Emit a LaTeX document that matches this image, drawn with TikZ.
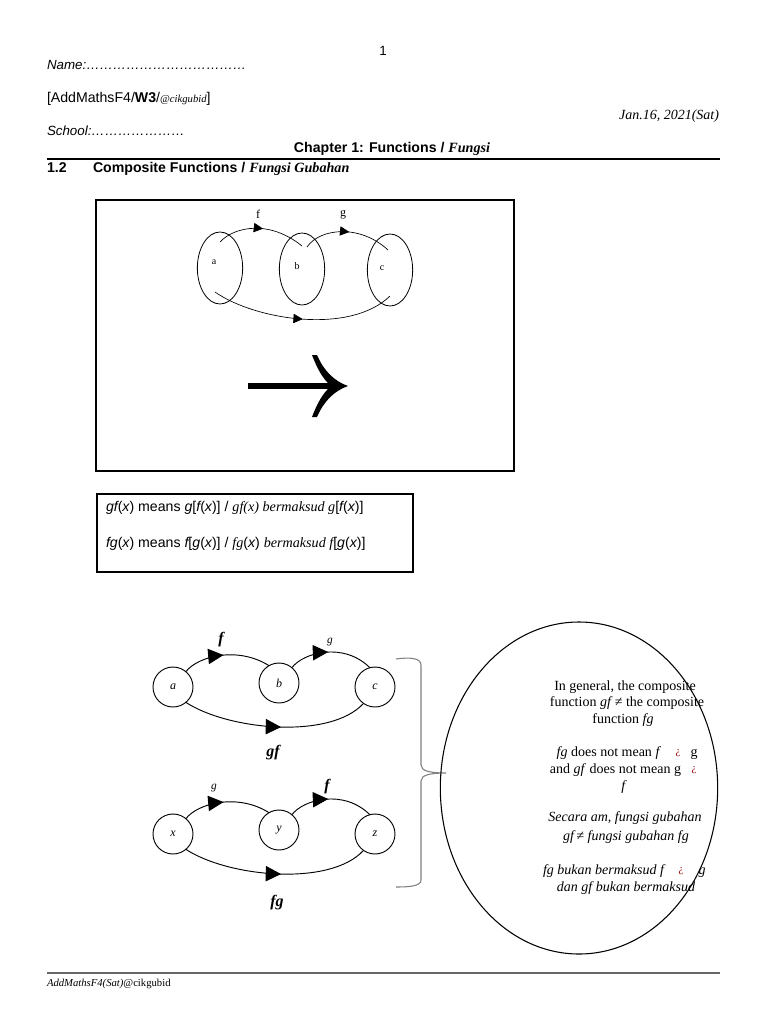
\documentclass[tikz,border=0pt]{standalone}
\usepackage{fontspec}
\setmainfont{Liberation Sans}
\newfontfamily\sr{Liberation Serif}
\usetikzlibrary{arrows.meta,decorations.markings,shapes.geometric,calc}
\begin{document}
\begin{tikzpicture}[x=0.75pt,y=-0.75pt,
  every node/.style={inner sep=0pt,outer sep=0pt},
  sans/.style={font=\fontsize{10}{12}\selectfont},
  head/.style={font=\fontsize{10.6}{12}\selectfont},
  serifs/.style={font=\sr\fontsize{10.5}{12}\selectfont},
  frame/.style={draw,line width=0.8pt},
  ovl/.style={draw,ellipse,line width=0.6pt,minimum width=34pt,minimum height=54pt},
  circ/.style={draw,circle,line width=0.7pt,minimum size=30pt,font=\sr\itshape\fontsize{9}{10}\selectfont},
  thinarc/.style={line width=0.5pt,postaction={decorate},decoration={markings,mark=at position #1 with {\arrow{Triangle[length=7pt,width=7pt]}}}},
  bigarc/.style={line width=0.7pt,postaction={decorate},decoration={markings,mark=at position #1 with {\arrow{Triangle[length=11.5pt,width=11.5pt]}}}},
  redq/.style={text=red!60!black,font=\sr\fontsize{8}{9}\selectfont}
]
\useasboundingbox[fill=white] (0,0) rectangle (768,1024);

% header
\node[sans,anchor=mid] (pg) at (383,52) {1};
\node[sans,anchor=mid west] (name) at (47,66) {\itshape Name:………………………………};
\node[head,anchor=mid west] (addm) at (47,99) {[AddMathsF4/\textbf{W3}/{\sr\itshape\fontsize{8}{9}\selectfont @cikgubid}]};
\node[serifs,anchor=mid east] (date) at (719,116) {\itshape Jan.16, 2021(Sat)};
\node[sans,anchor=mid west] (school) at (47,132) {\itshape School:…………………};
\node[head,anchor=mid] (chap) at (392,149) {\bfseries Chapter 1: Functions / {\sr\itshape Fungsi}};
\draw[line width=1pt] (47,159) -- (720,159);
\node[head,anchor=mid west] (sec) at (47,169) {\bfseries 1.2};
\node[head,anchor=mid west] (sect) at (93,169) {\bfseries Composite Functions / {\sr\itshape Fungsi Gubahan}};

% box 1
\draw[frame] (96,200) rectangle (514,471);
\node[ovl] (ea) at (220,268) {};
\node[ovl] (eb) at (302,269) {};
\node[ovl] (ec) at (390,270) {};
\node[font=\sr\fontsize{7.5}{8}\selectfont] (la) at (214,262) {a};
\node[font=\sr\fontsize{7.5}{8}\selectfont] (lb) at (297,266) {b};
\node[font=\sr\fontsize{7.5}{8}\selectfont] (lc) at (382,268) {c};
\coordinate (a1) at ($(ea.center)+(0,-26)$);
\coordinate (b1) at ($(eb.center)+(0,-23)$);
\coordinate (b2) at ($(eb.center)+(5,-22)$);
\coordinate (c1) at ($(ec.center)+(-2,-20)$);
\coordinate (a2) at ($(ea.center)+(-5,24)$);
\coordinate (c2) at ($(ec.center)+(0,26)$);
\draw[thinarc=0.52] (a1) .. controls (235,226) and (270,220) .. (b1);
\draw[thinarc=0.52] (b2) .. controls (320,228) and (360,224) .. (c1);
\draw[thinarc=0.5] (a2) .. controls (255,320) and (350,335) .. (c2);
\node[font=\sr\fontsize{9}{10}\selectfont] (lf) at (258,214) {f};
\node[font=\sr\fontsize{9}{10}\selectfont] (lg) at (343,215) {g};
% big arrow
\draw[line width=3.8pt] (248,386) -- (334,386);
\fill (312,355) -- (317,355) .. controls (324,371) and (334,381) .. (348,386)
  .. controls (334,391) and (324,401) .. (317,417) -- (312,417)
  .. controls (317,404) and (322,394) .. (331,386)
  .. controls (322,378) and (317,368) .. cycle;

% box 2
\draw[frame] (97,494) rectangle (413,572);
\node[head,anchor=mid west] (l1) at (106,508) {\itshape gf\upshape(\itshape x\upshape) means \itshape g\upshape[\itshape f\upshape(\itshape x\upshape)] / {\sr\itshape gf(x) bermaksud g}[\itshape f\upshape(\itshape x\upshape)]};
\node[head,anchor=mid west] (l2) at (106,544) {\itshape fg\upshape(\itshape x\upshape) means \itshape f\upshape[\itshape g\upshape(\itshape x\upshape)] / {\sr\itshape fg}(\itshape x\upshape) {\sr\itshape bermaksud f}[\itshape g\upshape(\itshape x\upshape)]};

% lower diagram gf
\node[circ] (a) at (173,687) {a};
\node[circ] (b) at (279,683) {b};
\node[circ] (c) at (375,687) {c};
\draw[bigarc=0.47] (a.50) .. controls (198,656) and (238,646) .. (b.120);
\draw[bigarc=0.47] (b.50) .. controls (304,652) and (344,642) .. (c.105);
\draw[bigarc=0.53] (a.-50) .. controls (228,730) and (330,740) .. (c.-125);
\node[font=\sr\bfseries\itshape\fontsize{12}{12}\selectfont] (tf) at (221,640) {f};
\node[font=\sr\itshape\fontsize{8.5}{9}\selectfont] (tg) at (330,642) {g};
\node[font=\sr\bfseries\itshape\fontsize{12}{12}\selectfont] (tgf) at (273,753) {gf};

% lower diagram fg
\node[circ] (x) at (173,834) {x};
\node[circ] (y) at (279,830) {y};
\node[circ] (z) at (375,834) {z};
\draw[bigarc=0.47] (x.50) .. controls (198,803) and (238,793) .. (y.120);
\draw[bigarc=0.47] (y.50) .. controls (304,799) and (344,789) .. (z.105);
\draw[bigarc=0.53] (x.-50) .. controls (228,877) and (330,887) .. (z.-125);
\node[font=\sr\itshape\fontsize{8.5}{9}\selectfont] (ug) at (214,788) {g};
\node[font=\sr\bfseries\itshape\fontsize{12}{12}\selectfont] (uf) at (327,787) {f};
\node[font=\sr\bfseries\itshape\fontsize{12}{12}\selectfont] (ufg) at (277,903) {fg};

% brace
\draw[gray,line width=0.8pt] (396,659) .. controls (410,657) and (421,658) .. (421,665) -- (421,765)
  .. controls (421,771) and (430,773) .. (446,773) .. controls (430,773) and (421,775) .. (421,781)
  -- (421,880) .. controls (421,886) and (410,887) .. (396,887);

% big ellipse
\node[draw,ellipse,line width=0.8pt,minimum width=208pt,minimum height=249pt] (oval) at (579,788) {};
\begin{scope}[every node/.append style={serifs,anchor=mid}]
\node (t1) at (625,687) {In general, the composite};
\node (t2) at (627,703) {function \textit{gf}\,≠ the composite};
\node (t3) at (623,720) {function \textit{fg}};
\node[anchor=mid east] (t4) at (661,753) {\textit{fg} does not mean \textit{f}};
\node[redq] (q4) at (678,751) {¿};
\node (g4) at (694,753) {g};
\node[anchor=mid east] (t5) at (681,770) {and \textit{gf} does not mean g};
\node[redq] (q5) at (694,768) {¿};
\node (t6) at (624,787) {\textit{f}};
\node (t7) at (625,818) {\itshape Secara am, fungsi gubahan};
\node (t8) at (626,837) {\itshape gf\,≠ fungsi gubahan fg};
\node[anchor=mid east] (t9) at (664,871) {\itshape fg bukan bermaksud f};
\node[redq] (q9) at (681,869) {¿};
\node (g9) at (702,871) {\itshape g};
\node (t10) at (626,888) {\itshape dan gf bukan bermaksud};
\end{scope}

% footer
\draw[gray!80!black,line width=1.5pt] (47,973) -- (720,973);
\node[anchor=mid west,font=\sr\fontsize{8}{9}\selectfont] (foot) at (47,983) {\itshape AddMathsF4(Sat)\upshape @cikgubid};
\end{tikzpicture}
\end{document}
